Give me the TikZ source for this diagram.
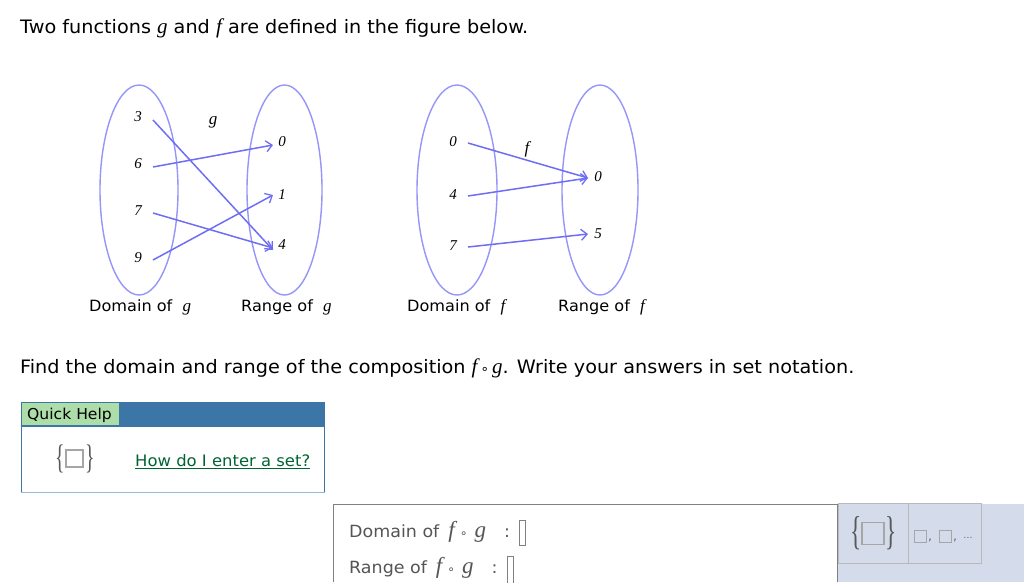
\documentclass[tikz,border=0pt]{standalone}
\usepackage{fontspec}
\setmainfont{DejaVu Sans}[FakeStretch=1.04]
\newfontfamily\tms{Liberation Serif}
\usetikzlibrary{arrows.meta}
\definecolor{ell}{RGB}{150,150,250}
\definecolor{arr}{RGB}{110,110,245}
\definecolor{hdr}{RGB}{60,118,166}
\definecolor{hdrl}{RGB}{150,185,215}
\definecolor{tab}{RGB}{173,221,168}
\definecolor{lnk}{RGB}{0,100,50}
\definecolor{pal}{RGB}{212,220,235}
\definecolor{gtx}{RGB}{85,85,85}
\newcommand\vv[1]{{\tms\itshape #1}}
\begin{document}
\begin{tikzpicture}[x=1pt,y=-1pt,
  setell/.style={draw=ell,line width=1.4pt},
  maparr/.style={draw=arr,line width=1.5pt,-{Straight Barb[length=6pt,width=11pt,line width=1.3pt]}},
  num/.style={inner sep=0pt,font=\fontsize{15}{15}\tms\itshape},
  lab/.style={inner sep=0pt,anchor=west,font=\fontsize{15.5}{15.5}\selectfont},
  body/.style={inner sep=0pt,anchor=west,font=\fontsize{18.5}{18.5}\selectfont},
  iconbox/.style={draw=gray!70,line width=1.2pt,inner sep=0pt},
  brace/.style={inner sep=0pt,text=gray!70!black}]
\useasboundingbox[fill=white] (0,0) rectangle (1024,582);

\node[body] (t1) at (20,28) {Two functions \vv{\fontsize{21}{21}\selectfont g} and \vv{\fontsize{21}{21}\selectfont f} are defined in the figure below.};

% g diagram
\draw[setell] (139,190) ellipse [x radius=39,y radius=105];
\draw[setell] (284.5,190) ellipse [x radius=37.5,y radius=105];
\node[num] (g3) at (138,117) {3};
\node[num] (g6) at (138,164) {6};
\node[num] (g7) at (138,211) {7};
\node[num] (g9) at (138,258) {9};
\node[num] (gr0) at (282,142) {0};
\node[num] (gr1) at (282,195) {1};
\node[num] (gr4) at (282,245) {4};
\node[num,font=\fontsize{17}{17}\tms\itshape] (gl) at (213,122) {g};
\draw[maparr] ([xshift=15pt,yshift=-3pt]g3.center) -- ([xshift=-9pt,yshift=-5pt]gr4.center);
\draw[maparr] ([xshift=15pt,yshift=-3pt]g6.center) -- ([xshift=-9pt,yshift=-3pt]gr0.center);
\draw[maparr] ([xshift=15pt,yshift=-2pt]g7.center) -- ([xshift=-9pt,yshift=-3pt]gr4.center);
\draw[maparr] ([xshift=15pt,yshift=-2pt]g9.center) -- ([xshift=-9pt,yshift=0pt]gr1.center);
\node[lab] (dg) at (89,307) {Domain of\ \ \vv{\fontsize{17}{17}\selectfont g}};
\node[lab] (rg) at (241,307) {Range of\ \ \vv{\fontsize{17}{17}\selectfont g}};

% f diagram
\draw[setell] (457,190) ellipse [x radius=40,y radius=105];
\draw[setell] (600,190) ellipse [x radius=38,y radius=105];
\node[num] (f0) at (453,142) {0};
\node[num] (f4) at (453,195) {4};
\node[num] (f7) at (453,246) {7};
\node[num] (fr0) at (598,177) {0};
\node[num] (fr5) at (598,234) {5};
\node[num,font=\fontsize{17}{17}\tms\itshape] (fl) at (527,149) {f};
\draw[maparr] ([xshift=15pt,yshift=-1pt]f0.center) -- ([xshift=-10pt,yshift=-1pt]fr0.center);
\draw[maparr] ([xshift=15pt,yshift=-1pt]f4.center) -- ([xshift=-10pt,yshift=-1pt]fr0.center);
\draw[maparr] ([xshift=15pt,yshift=-1pt]f7.center) -- ([xshift=-10pt,yshift=0pt]fr5.center);
\node[lab] (df) at (407,307) {Domain of\ \ \vv{\fontsize{17}{17}\selectfont f}};
\node[lab] (rf) at (558,307) {Range of\ \ \vv{\fontsize{17}{17}\selectfont f}};

\node[body] (t2) at (20,368) {Find the domain and range of the composition \vv{\fontsize{21}{21}\selectfont f}\,{\fontsize{13}{13}\selectfont∘}\,\vv{\fontsize{21}{21}\selectfont g}. Write your answers in set notation.};

% Quick help
\draw[hdrl,line width=1pt,fill=white] (21,402) rectangle (324,492);
\draw[hdr,line width=1pt] (21,492) -- (21,402) -- (324,402) -- (324,492);
\fill[hdr] (21,402) rectangle (324,427);
\fill[tab] (22,403) rectangle (119,425);
\node[inner sep=0pt,anchor=west,font=\fontsize{15}{15}\selectfont] (qh) at (27,415) {Quick Help};
\node[iconbox,minimum width=17pt,minimum height=17pt] (sq1) at (74.5,458.5) {};
\node[brace,font=\fontsize{22}{22}\tms] (lb1) at ([xshift=-14.5pt,yshift=0pt]sq1.center) {\scalebox{0.9}[1.55]{\{}};
\node[brace,font=\fontsize{22}{22}\tms] (rb1) at ([xshift=15.5pt,yshift=0pt]sq1.center) {\scalebox{0.9}[1.55]{\}}};
\node[inner sep=0pt,anchor=west,text=lnk,font=\fontsize{15.8}{15.8}\selectfont] (hl) at (135,461) {How do I enter a set?};
\draw[lnk,line width=1.1pt] ([yshift=-1.5pt]hl.south west) -- ([yshift=-1.5pt]hl.south east);

% answer box
\draw[gray,line width=1pt,fill=white] (333,582) -- (333,504) -- (837,504) -- (837,582);
\fill[pal] (837.5,504) rectangle (1024,582);
\draw[gray!55,line width=1pt] (838,563) -- (838,503) -- (981,503) -- (981,563) -- cycle;
\draw[gray!55,line width=1pt] (908,503) -- (908,563);
\node[iconbox,minimum size=22pt] (sq2) at (873,533.5) {};
\node[brace,font=\fontsize{26}{26}\tms] (lb2) at ([xshift=-17pt,yshift=0pt]sq2.center) {\scalebox{0.9}[1.55]{\{}};
\node[brace,font=\fontsize{26}{26}\tms] (rb2) at ([xshift=18pt,yshift=0pt]sq2.center) {\scalebox{0.9}[1.55]{\}}};
\node[iconbox,minimum size=12pt,line width=1pt] (sq3) at (920.5,536) {};
\node[iconbox,minimum size=12pt,line width=1pt] (sq4) at (945.5,536) {};
\node[inner sep=0pt,text=gray!80!black,font=\fontsize{12}{12}\selectfont] (c1) at (930,540) {,};
\node[inner sep=0pt,text=gray!80!black,font=\fontsize{12}{12}\selectfont] (c2) at (955,540) {,};
\node[inner sep=0pt,text=gray!80!black,font=\fontsize{9}{9}\selectfont] (el) at (968,538) {…};

\node[inner sep=0pt,anchor=west,text=gtx,font=\fontsize{16.8}{16.8}\selectfont] (ad) at (349,532) {Domain of\hspace{9pt}\vv{\fontsize{23}{23}\selectfont f}\hspace{5pt}{\fontsize{12}{12}\selectfont∘}\hspace{7pt}\vv{\fontsize{23}{23}\selectfont g}\hspace{18pt}:};
\node[draw=gray,line width=0.9pt,minimum width=6pt,minimum height=25pt,inner sep=0pt,anchor=west] (ib1) at ([xshift=9pt,yshift=-1pt]ad.east) {};
\node[inner sep=0pt,anchor=west,text=gtx,font=\fontsize{16.8}{16.8}\selectfont] (ar) at (349,568) {Range of\hspace{9pt}\vv{\fontsize{23}{23}\selectfont f}\hspace{5pt}{\fontsize{12}{12}\selectfont∘}\hspace{7pt}\vv{\fontsize{23}{23}\selectfont g}\hspace{18pt}:};
\node[draw=gray,line width=0.9pt,minimum width=6pt,minimum height=28pt,inner sep=0pt,anchor=west] (ib2) at ([xshift=9pt,yshift=-2pt]ar.east) {};
\end{tikzpicture}
\end{document}
